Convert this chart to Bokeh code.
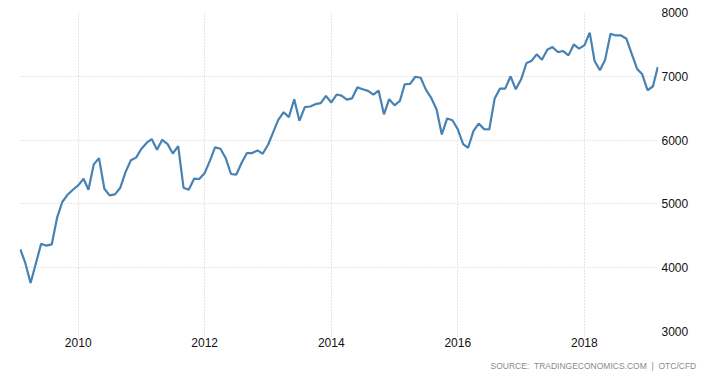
from datetime import datetime, timedelta
from bokeh.plotting import figure
from bokeh.models import Range1d, FixedTicker, DatetimeTickFormatter, LinearAxis, Title, ColumnDataSource, Grid
from bokeh.embed import file_html
from bokeh.resources import INLINE

# Monthly values, Feb 2009 .. Mar 2019
values = [
    4287, 4078, 3760, 4063, 4376, 4345, 4365, 4784, 5030, 5144, 5222,          # 2009 Feb-Dec
    5290, 5395, 5222, 5620, 5718, 5238, 5133, 5150, 5254, 5498, 5683, 5725,    # 2010
    5865, 5960, 6016, 5850, 6005, 5937, 5790, 5905, 5254, 5222, 5395, 5390,    # 2011
    5483, 5683, 5885, 5865, 5720, 5469, 5458, 5640, 5797, 5797, 5838, 5786,    # 2012
    5927, 6134, 6317, 6437, 6360, 6641, 6302, 6516, 6527, 6563, 6580, 6694,    # 2013
    6590, 6714, 6698, 6635, 6655, 6828, 6798, 6772, 6712, 6776, 6404, 6641,    # 2014
    6545, 6614, 6875, 6880, 6993, 6977, 6792, 6661, 6480, 6089, 6339, 6312,    # 2015
    6172, 5937, 5880, 6145, 6260, 6172, 6167, 6651, 6807, 6807, 7000, 6797,    # 2016
    6953, 7208, 7240, 7344, 7261, 7417, 7458, 7380, 7396, 7328, 7500, 7433,    # 2017
    7485, 7684, 7240, 7094, 7261, 7667, 7640, 7640, 7588, 7354, 7120, 7031,    # 2018
    6781, 6844, 7146,                                                          # 2019 Jan-Mar
]
y_ticks = [3000, 4000, 5000, 6000, 7000, 8000]
x_tick_years = [2010, 2012, 2014, 2016, 2018]
source_text = "SOURCE:\u00a0\u00a0TRADINGECONOMICS.COM\u00a0\u00a0|\u00a0\u00a0OTC/CFD"

dates = []
y, m = 2009, 2
for _ in values:
    dates.append(datetime(y, m, 1))
    m += 1
    if m > 12:
        m = 1
        y += 1

src = ColumnDataSource(dict(date=dates, value=values))

x_start = dates[0] - timedelta(days=5)
x_end = dates[-1] + timedelta(days=4)

p = figure(width=700, height=379, output_backend="svg", toolbar_location=None,
           x_axis_type="datetime", x_range=Range1d(x_start, x_end),
           y_range=Range1d(3000, 8000), y_axis_location=None,
           min_border_left=19, min_border_right=42, min_border_top=12, min_border_bottom=48)
p.outline_line_color = None
p.background_fill_color = "white"
p.border_fill_color = "white"

p.line("date", "value", source=src, line_color="#4682b4", line_width=2.2)

# x axis
xa = p.xaxis[0]
xa.ticker = FixedTicker(ticks=[datetime(yr, 1, 1).timestamp() * 1000 for yr in x_tick_years])
xa.formatter = DatetimeTickFormatter(years="%Y", months="%Y", days="%Y")
xa.axis_line_color = None
xa.major_tick_line_color = "#cccccc"
xa.major_tick_line_dash = "1 2"
xa.major_tick_out = 5
xa.major_tick_in = 0
xa.minor_tick_line_color = None
xa.major_label_standoff = 1
xa.major_label_text_font = "Liberation Sans"
xa.major_label_text_font_size = "12px"
xa.major_label_text_color = "#111111"

# right y axis
ya = LinearAxis(ticker=FixedTicker(ticks=y_ticks))
ya.axis_line_color = None
ya.major_tick_line_color = None
ya.minor_tick_line_color = None
ya.major_tick_out = 0
ya.major_tick_in = 0
ya.major_label_standoff = 3
ya.major_label_text_font = "Liberation Sans"
ya.major_label_text_font_size = "12px"
ya.major_label_text_color = "#111111"
p.add_layout(ya, "right")

p.xgrid.ticker = xa.ticker
p.xgrid.grid_line_color = "#cccccc"
p.xgrid.grid_line_dash = "1 2"
p.ygrid.grid_line_color = None
yg = Grid(dimension=1, ticker=ya.ticker, grid_line_color="#cccccc", grid_line_dash="1 2")
p.add_layout(yg)

src_title = Title(text=source_text, align="left", offset=471, standoff=18,
                  text_font="Liberation Sans", text_font_size="8.5px",
                  text_font_style="normal", text_color="#8a8a8a")
p.add_layout(src_title, "below")

open("out.html", "w").write(file_html(p, INLINE))
